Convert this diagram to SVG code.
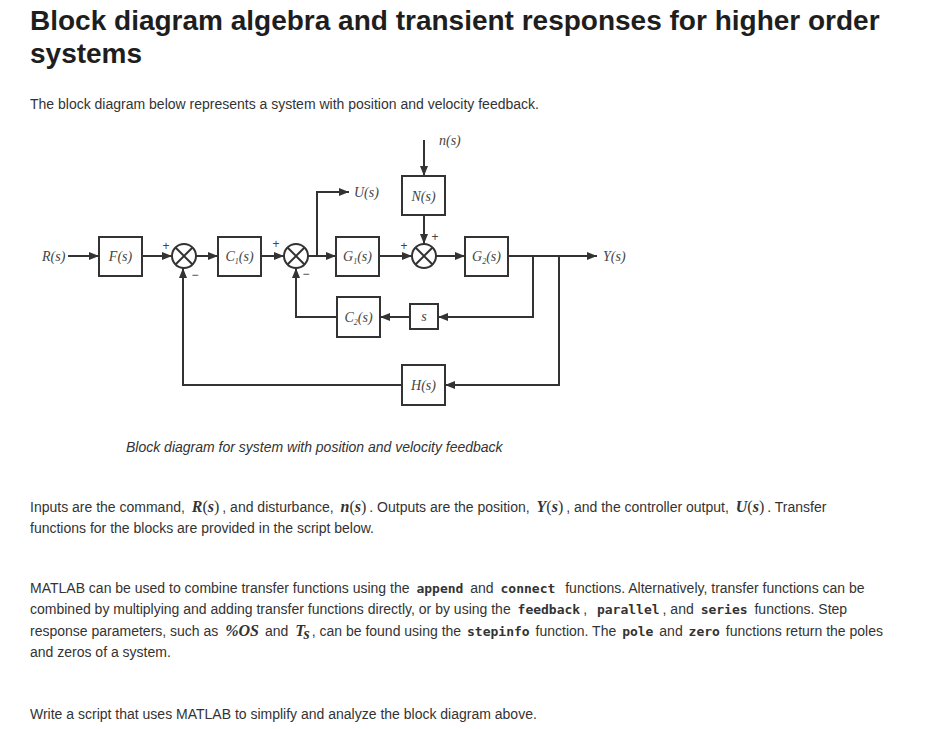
<svg xmlns="http://www.w3.org/2000/svg" width="950" height="729" viewBox="0 0 950 729">
<defs>
<marker id="ah" viewBox="0 0 10 8" refX="10" refY="4" markerWidth="10" markerHeight="8" markerUnits="userSpaceOnUse" orient="auto">
<path d="M0,0 L10,4 L0,8 Z" fill="#333"/>
</marker>
</defs>
<style>
.title{font-family:"Liberation Sans",Arial,sans-serif;font-weight:bold;font-size:28px;fill:#1e1e1e}
.body{font-family:"Liberation Sans",Arial,sans-serif;font-size:14px;fill:#333}
.cap{font-family:"Liberation Sans",Arial,sans-serif;font-size:14px;font-style:italic;fill:#333}
.mono{font-family:"DejaVu Sans Mono","Liberation Mono",monospace;font-weight:bold;font-size:13px}
.math{font-family:"Liberation Serif","Times New Roman",serif;font-weight:bold;font-style:italic;font-size:16px}
.mp{font-family:"Liberation Serif","Times New Roman",serif;font-size:16px}
.box{fill:#fff;stroke:#333;stroke-width:2}
.sum{fill:#fff;stroke:#333;stroke-width:2}
.ln{fill:none;stroke:#333;stroke-width:2}
.lbl{font-family:"Liberation Serif","Times New Roman",serif;font-style:italic;font-size:14px;fill:#444}
.sub{font-size:8px}
.sign{font-family:"Liberation Sans",Arial,sans-serif;font-size:12px;fill:#444}
</style>
<rect width="950" height="729" fill="#fff"/>
<text class="title" x="30" y="30">Block diagram algebra and transient responses for higher order</text>
<text class="title" x="30" y="63">systems</text>
<text class="body" x="30" y="109">The block diagram below represents a system with position and velocity feedback.</text>

<g id="connectors">
<path class="ln" d="M68,256 H99" marker-end="url(#ah)"/>
<path class="ln" d="M142,256 H172" marker-end="url(#ah)"/>
<path class="ln" d="M196,256 H218" marker-end="url(#ah)"/>
<path class="ln" d="M261,256 H284" marker-end="url(#ah)"/>
<path class="ln" d="M308,256 H336" marker-end="url(#ah)"/>
<path class="ln" d="M317,256 V192 H349" marker-end="url(#ah)"/>
<path class="ln" d="M379,256 H412" marker-end="url(#ah)"/>
<path class="ln" d="M424,140 V176" marker-end="url(#ah)"/>
<path class="ln" d="M424,215 V244" marker-end="url(#ah)"/>
<path class="ln" d="M436,256 H465" marker-end="url(#ah)"/>
<path class="ln" d="M508,256 H597" marker-end="url(#ah)"/>
<path class="ln" d="M533,256 V317 H438" marker-end="url(#ah)"/>
<path class="ln" d="M410,317 H380" marker-end="url(#ah)"/>
<path class="ln" d="M337,317 H296 V268" marker-end="url(#ah)"/>
<path class="ln" d="M559,256 V385 H445" marker-end="url(#ah)"/>
<path class="ln" d="M402,385 H183 V268" marker-end="url(#ah)"/>
</g>

<g id="R"><text class="lbl" x="42" y="261">R(s)</text></g>
<g id="F"><rect class="box" x="99" y="237" width="43" height="39"/><text class="lbl" x="120.5" y="261" text-anchor="middle">F(s)</text></g>
<g id="sum1"><circle class="sum" cx="184" cy="256" r="12"/><path class="ln" d="M175.5,247.5 L192.5,264.5 M192.5,247.5 L175.5,264.5"/>
<text class="sign" x="166" y="250" text-anchor="middle">+</text><text class="sign" x="195" y="279" text-anchor="middle">−</text></g>
<g id="C1"><rect class="box" x="218" y="237" width="43" height="39"/><text class="lbl" x="239.5" y="261" text-anchor="middle">C<tspan class="sub" dy="3">1</tspan><tspan dy="-3">(s)</tspan></text></g>
<g id="sum2"><circle class="sum" cx="296" cy="256" r="12"/><path class="ln" d="M287.5,247.5 L304.5,264.5 M304.5,247.5 L287.5,264.5"/>
<text class="sign" x="276" y="248" text-anchor="middle">+</text><text class="sign" x="306" y="278" text-anchor="middle">−</text></g>
<g id="U"><text class="lbl" x="354" y="197">U(s)</text></g>
<g id="G1"><rect class="box" x="336" y="237" width="43" height="39"/><text class="lbl" x="357.5" y="261" text-anchor="middle">G<tspan class="sub" dy="3">1</tspan><tspan dy="-3">(s)</tspan></text></g>
<g id="n"><text class="lbl" x="439" y="145">n(s)</text></g>
<g id="N"><rect class="box" x="402" y="176" width="43" height="39"/><text class="lbl" x="423.5" y="201" text-anchor="middle">N(s)</text></g>
<g id="sum3"><circle class="sum" cx="424" cy="256" r="12"/><path class="ln" d="M415.5,247.5 L432.5,264.5 M432.5,247.5 L415.5,264.5"/>
<text class="sign" x="404" y="250" text-anchor="middle">+</text><text class="sign" x="435" y="241" text-anchor="middle">+</text></g>
<g id="G2"><rect class="box" x="465" y="237" width="43" height="39"/><text class="lbl" x="486.5" y="261" text-anchor="middle">G<tspan class="sub" dy="3">2</tspan><tspan dy="-3">(s)</tspan></text></g>
<g id="Y"><text class="lbl" x="603" y="261">Y(s)</text></g>
<g id="C2"><rect class="box" x="337" y="297" width="43" height="40"/><text class="lbl" x="358.5" y="322" text-anchor="middle">C<tspan class="sub" dy="3">2</tspan><tspan dy="-3">(s)</tspan></text></g>
<g id="S"><rect class="box" x="410" y="304" width="28" height="25"/><text class="lbl" x="424" y="321" text-anchor="middle">s</text></g>
<g id="H"><rect class="box" x="402" y="365" width="43" height="40"/><text class="lbl" x="423.5" y="390" text-anchor="middle">H(s)</text></g>

<text class="cap" x="126" y="452">Block diagram for system with position and velocity feedback</text>

<text class="body" x="30" y="512">Inputs are the command, <tspan class="math" dx="3">R</tspan><tspan class="mp">(</tspan><tspan class="math">s</tspan><tspan class="mp">)</tspan><tspan dx="3">, and disturbance, </tspan><tspan class="math" dx="3">n</tspan><tspan class="mp">(</tspan><tspan class="math">s</tspan><tspan class="mp">)</tspan><tspan dx="3">. Outputs are the position, </tspan><tspan class="math" dx="3">Y</tspan><tspan class="mp">(</tspan><tspan class="math">s</tspan><tspan class="mp">)</tspan><tspan dx="3">, and the controller output, </tspan><tspan class="math" dx="3">U</tspan><tspan class="mp">(</tspan><tspan class="math">s</tspan><tspan class="mp">)</tspan><tspan dx="3">. Transfer</tspan></text>
<text class="body" x="30" y="533">functions for the blocks are provided in the script below.</text>

<text class="body" x="30" y="593">MATLAB can be used to combine transfer functions using the <tspan class="mono" dx="3">append</tspan><tspan dx="3"> and </tspan><tspan class="mono" dx="3">connect</tspan> <tspan dx="6">functions. Alternatively, transfer functions can be</tspan></text>
<text class="body" x="30" y="614">combined by multiplying and adding transfer functions directly, or by using the <tspan class="mono" dx="3">feedback</tspan><tspan dx="3">, </tspan><tspan class="mono" dx="6">parallel</tspan><tspan dx="3">, and </tspan><tspan class="mono" dx="3">series</tspan><tspan dx="3"> functions. Step</tspan></text>
<text class="body" x="30" y="636">response parameters, such as <tspan class="math" dx="3">%OS</tspan><tspan dx="2"> and </tspan><tspan class="math" dx="3">T</tspan><tspan class="math" font-size="9" dy="3">s</tspan><tspan dy="-3" dx="2">, can be found using the </tspan><tspan class="mono" dx="2">stepinfo</tspan><tspan dx="2"> function. The </tspan><tspan class="mono" dx="2">pole</tspan><tspan dx="2"> and </tspan><tspan class="mono" dx="2">zero</tspan><tspan dx="2"> functions return the poles</tspan></text>
<text class="body" x="30" y="657">and zeros of a system.</text>

<text class="body" x="30" y="719">Write a script that uses MATLAB to simplify and analyze the block diagram above.</text>
</svg>
